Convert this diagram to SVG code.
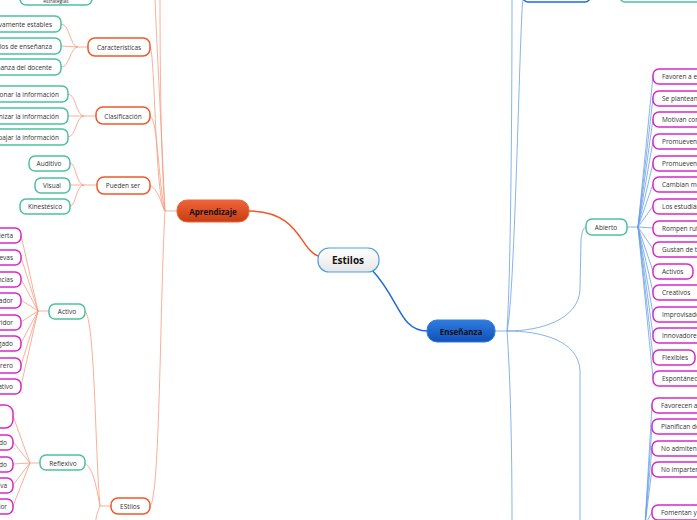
<svg xmlns="http://www.w3.org/2000/svg" width="697" height="520" viewBox="0 0 697 520">
<defs>
<linearGradient id="gO" x1="0" y1="0" x2="0" y2="1"><stop offset="0" stop-color="#f0643a"/><stop offset="1" stop-color="#c73d12"/></linearGradient>
<linearGradient id="gB" x1="0" y1="0" x2="0" y2="1"><stop offset="0" stop-color="#2f7de0"/><stop offset="1" stop-color="#1150b8"/></linearGradient>
<linearGradient id="gW" x1="0" y1="0" x2="0" y2="1"><stop offset="0" stop-color="#ffffff"/><stop offset="1" stop-color="#e6e6e6"/></linearGradient>
</defs>
<style>
text{font-family:"Open Sans","DejaVu Sans",sans-serif;font-size:6.5px;fill:#333;dominant-baseline:central}
.o{fill:#fff;stroke:#f0582a;stroke-width:1.5}
.t{fill:#fff;stroke:#4cc1a0;stroke-width:1.5}
.m{fill:#fff;stroke:#d829c8;stroke-width:1.5}
.lo{fill:none;stroke:#f79a80;stroke-width:0.8}
.lb{fill:none;stroke:#6a9fe6;stroke-width:0.8}
.b{font-weight:bold;font-size:8px;fill:#111}
</style>
<g id="connectors">
<path d="M249,211 C300,211 300,250 318,256" fill="none" stroke="#f0582a" stroke-width="1.5"/>
<path d="M372,270 C400,300 400,331 427,331" fill="none" stroke="#1f6bd8" stroke-width="1.5"/>
<path class="lo" d="M177,211 L165,211 C160,150 160,20 160,-5 M165,211 C160,100 155,10 155,-5 M165,211 C155,200 155,50 150,47 M165,211 C158,180 158,120 150,116 M165,211 C160,200 158,190 150,185 M165,211 C160,300 160,500 150,506"/>
<path class="lo" d="M88,47 L78,47 C70,47 70,24 61,24 M78,47 L61,46 M78,47 C70,47 70,67 61,67"/>
<path class="lo" d="M96,116 L84,116 C76,116 76,94 68,94 M84,116 L68,116 M84,116 C76,116 76,137 68,137"/>
<path class="lo" d="M97,185 L84,185 C76,185 76,163 70,163 M84,185 L70,185 M84,185 C76,185 76,206 70,206"/>
<path class="lo" d="M111,506 L100,506 C95,450 95,320 85,311 M100,506 C95,480 93,470 85,463 M100,506 C96,515 96,520 95,525"/>
<path class="lo" d="M49,311 L38,311 L21,235 M38,311 L21,257 M38,311 L21,279 M38,311 L21,300 M38,311 L21,322 M38,311 L21,343 M38,311 L21,365 M38,311 L21,386"/>
<path class="lo" d="M40,463 L30,463 L13,416 M30,463 L13,442 M30,463 L13,464 M30,463 L13,485 M30,463 L13,506"/>
<path class="lb" d="M495,331 L507,331 C512,250 512,20 512,-5 M507,331 C512,400 512,500 512,525 M507,331 C515,300 520,10 523,0 M507,331 C540,331 578,320 580,290 L581,240 C582,230 584,227 586,227 M507,331 C540,331 578,340 580,370 L580,525"/>
<path class="lb" d="M627,227 L638,227 L653,76 M638,227 L653,98 M638,227 L653,119 M638,227 L653,141 M638,227 L653,163 M638,227 L653,184 M638,227 L653,206 M638,227 L653,228 M638,227 L653,249 M638,227 L653,271 M638,227 L653,292 M638,227 L653,314 M638,227 L653,335 M638,227 L653,357 M638,227 L653,378"/>
<path class="lb" d="M645,525 L652,405 M645,525 L652,426 M645,525 L652,448 M645,525 L652,469 M645,525 L652,512"/>
</g>
<g id="estilos"><rect x="318" y="248" width="61" height="24" rx="11" fill="url(#gW)" stroke="#4a9fe0" stroke-width="1.2"/><text x="348" y="260" text-anchor="middle" style="font-size:10px;font-weight:bold;fill:#111">Estilos</text></g>
<g id="aprendizaje"><rect x="177" y="200" width="72" height="22" rx="10" fill="url(#gO)" stroke="#f0643a"/><text x="213" y="211" text-anchor="middle" class="b">Aprendizaje</text></g>
<g id="ensenanza"><rect x="427" y="320" width="68" height="22" rx="10" fill="url(#gB)" stroke="#2f7de0"/><text x="461" y="331" text-anchor="middle" class="b">Enseñanza</text></g>
<g id="top-blue"><rect x="523" y="-10" width="67" height="12" rx="5" fill="#fff" stroke="#1f6bd8" stroke-width="1.5"/></g>
<g id="top-teal"><rect x="620" y="-10" width="85" height="12" rx="5" class="t"/></g>
<g id="top-left"><rect x="20" y="-10" width="72" height="15" rx="6" class="t"/><text x="56" y="1" text-anchor="middle" style="font-size:5px">estrategias</text></g>
<g id="caracteristicas"><rect x="88" y="38" width="62" height="18" rx="7" class="o"/><text x="119" y="47" text-anchor="middle">Características</text></g>
<g id="clasificacion"><rect x="96" y="107" width="54" height="17" rx="7" class="o"/><text x="123" y="116" text-anchor="middle">Clasificación</text></g>
<g id="pueden"><rect x="97" y="177" width="53" height="17" rx="7" class="o"/><text x="123" y="185" text-anchor="middle">Pueden ser</text></g>
<g id="estilos2"><rect x="111" y="498" width="39" height="16" rx="7" class="o"/><text x="130" y="506" text-anchor="middle">EStilos</text></g>
<g id="c1"><rect x="-40" y="16" width="101" height="16" rx="6" class="t"/><text x="52" y="24" text-anchor="end">Relativamente estables</text></g>
<g id="c2"><rect x="-40" y="38" width="101" height="16" rx="6" class="t"/><text x="52" y="46" text-anchor="end">Estilos de enseñanza</text></g>
<g id="c3"><rect x="-40" y="59" width="101" height="16" rx="6" class="t"/><text x="52" y="67" text-anchor="end">Enseñanza del docente</text></g>
<g id="k1"><rect x="-40" y="86" width="108" height="16" rx="6" class="t"/><text x="59" y="94" text-anchor="end">Seleccionar la información</text></g>
<g id="k2"><rect x="-40" y="108" width="108" height="16" rx="6" class="t"/><text x="59" y="116" text-anchor="end">Organizar la información</text></g>
<g id="k3"><rect x="-40" y="129" width="108" height="16" rx="6" class="t"/><text x="59" y="137" text-anchor="end">Trabajar la información</text></g>
<g id="auditivo"><rect x="29" y="156" width="41" height="15" rx="6" class="t"/><text x="49" y="163" text-anchor="middle">Auditivo</text></g>
<g id="visual"><rect x="35" y="178" width="35" height="15" rx="6" class="t"/><text x="52" y="185" text-anchor="middle">Visual</text></g>
<g id="kinestesico"><rect x="20" y="199" width="50" height="15" rx="6" class="t"/><text x="45" y="206" text-anchor="middle">Kinestésico</text></g>
<g id="activo"><rect x="49" y="304" width="36" height="15" rx="6" class="t"/><text x="67" y="311" text-anchor="middle">Activo</text></g>
<g id="reflexivo"><rect x="40" y="455" width="45" height="15" rx="6" class="t"/><text x="63" y="463" text-anchor="middle">Reflexivo</text></g>
<g id="a1"><rect x="-40" y="228" width="61" height="15" rx="6" class="m"/><text x="13" y="235" text-anchor="end">Mente abierta</text></g>
<g id="a2"><rect x="-40" y="250" width="61" height="15" rx="6" class="m"/><text x="13" y="257" text-anchor="end">Ideas nuevas</text></g>
<g id="a3"><rect x="-40" y="272" width="61" height="15" rx="6" class="m"/><text x="13" y="279" text-anchor="end">Experiencias</text></g>
<g id="a4"><rect x="-40" y="293" width="61" height="15" rx="6" class="m"/><text x="13" y="300" text-anchor="end">Animador</text></g>
<g id="a5"><rect x="-40" y="315" width="61" height="15" rx="6" class="m"/><text x="13" y="322" text-anchor="end">Descubridor</text></g>
<g id="a6"><rect x="-40" y="336" width="61" height="15" rx="6" class="m"/><text x="13" y="343" text-anchor="end">Arriesgado</text></g>
<g id="a7"><rect x="-40" y="358" width="61" height="15" rx="6" class="m"/><text x="13" y="365" text-anchor="end">Aventurero</text></g>
<g id="a8"><rect x="-40" y="379" width="61" height="15" rx="6" class="m"/><text x="13" y="386" text-anchor="end">Creativo</text></g>
<g id="r1"><rect x="-40" y="405" width="53" height="23" rx="8" class="m"/></g>
<g id="r2"><rect x="-40" y="435" width="53" height="15" rx="6" class="m"/><text x="7" y="442" text-anchor="end">Ponderado</text></g>
<g id="r3"><rect x="-40" y="457" width="53" height="15" rx="6" class="m"/><text x="7" y="464" text-anchor="end">Concienzudo</text></g>
<g id="r4"><rect x="-40" y="478" width="53" height="15" rx="6" class="m"/><text x="7" y="485" text-anchor="end">Receptiva</text></g>
<g id="r5"><rect x="-40" y="499" width="53" height="15" rx="6" class="m"/><text x="7" y="506" text-anchor="end">Observador</text></g>
<g id="abierto"><rect x="586" y="219" width="41" height="16" rx="6" class="t"/><text x="606" y="227" text-anchor="middle">Abierto</text></g>
<g id="e1"><rect x="653" y="69" width="70" height="15" rx="6" class="m"/><text x="662" y="76">Favoren a estudiantes</text></g>
<g id="e2"><rect x="653" y="91" width="70" height="15" rx="6" class="m"/><text x="662" y="98">Se plantean nuevos</text></g>
<g id="e3"><rect x="653" y="112" width="70" height="15" rx="6" class="m"/><text x="662" y="119">Motivan con</text></g>
<g id="e4"><rect x="653" y="134" width="70" height="15" rx="6" class="m"/><text x="662" y="141">Promueven la</text></g>
<g id="e5"><rect x="653" y="156" width="70" height="15" rx="6" class="m"/><text x="662" y="163">Promueven el</text></g>
<g id="e6"><rect x="653" y="177" width="70" height="15" rx="6" class="m"/><text x="662" y="184">Cambian metodología</text></g>
<g id="e7"><rect x="653" y="199" width="70" height="15" rx="6" class="m"/><text x="662" y="206">Los estudiantes</text></g>
<g id="e8"><rect x="653" y="221" width="70" height="15" rx="6" class="m"/><text x="662" y="228">Rompen rutinas</text></g>
<g id="e9"><rect x="653" y="242" width="70" height="15" rx="6" class="m"/><text x="662" y="249">Gustan de trabajar</text></g>
<g id="e10"><rect x="653" y="264" width="40" height="15" rx="6" class="m"/><text x="662" y="271">Activos</text></g>
<g id="e11"><rect x="653" y="285" width="70" height="15" rx="6" class="m"/><text x="662" y="292">Creativos</text></g>
<g id="e12"><rect x="653" y="307" width="70" height="15" rx="6" class="m"/><text x="662" y="314">Improvisadores</text></g>
<g id="e13"><rect x="653" y="328" width="70" height="15" rx="6" class="m"/><text x="662" y="335">Innovadores</text></g>
<g id="e14"><rect x="653" y="350" width="42" height="15" rx="6" class="m"/><text x="662" y="357">Flexibles</text></g>
<g id="e15"><rect x="653" y="371" width="70" height="15" rx="6" class="m"/><text x="662" y="378">Espontáneos</text></g>
<g id="f1"><rect x="652" y="398" width="70" height="15" rx="6" class="m"/><text x="661" y="405">Favorecen al</text></g>
<g id="f2"><rect x="652" y="419" width="70" height="15" rx="6" class="m"/><text x="661" y="426">Planifican de</text></g>
<g id="f3"><rect x="652" y="441" width="70" height="15" rx="6" class="m"/><text x="661" y="448">No admiten la</text></g>
<g id="f4"><rect x="652" y="462" width="70" height="15" rx="6" class="m"/><text x="661" y="469">No imparten</text></g>
<g id="f5"><rect x="652" y="505" width="70" height="15" rx="6" class="m"/><text x="661" y="512">Fomentan y</text></g>
</svg>
